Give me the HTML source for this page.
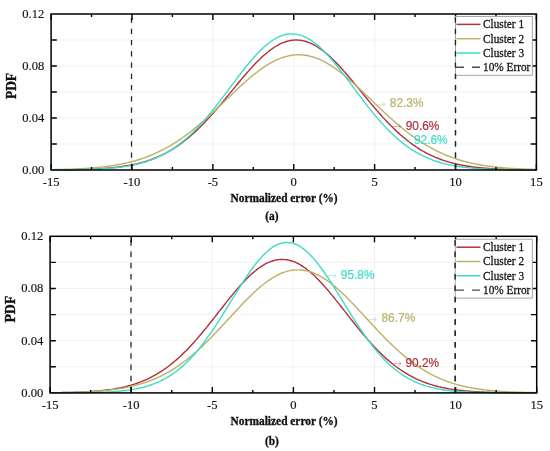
<!DOCTYPE html>
<html><head><meta charset="utf-8"><style>
html,body{margin:0;padding:0;background:#fff;}
body{width:550px;height:451px;overflow:hidden;}
svg{display:block;}
.tl{font-family:"Liberation Serif",serif;font-size:12.6px;fill:#111;stroke:#111;stroke-width:0.15px;}
.lg{font-family:"Liberation Serif",serif;font-size:11.3px;fill:#111;stroke:#111;stroke-width:0.25px;}
.ax{font-family:"Liberation Serif",serif;font-size:11.4px;font-weight:bold;fill:#111;stroke:#111;stroke-width:0.3px;}
.pdf{font-family:"Liberation Serif",serif;font-size:13px;font-weight:bold;fill:#111;stroke:#111;stroke-width:0.3px;}
.an{font-family:"Liberation Sans",sans-serif;font-size:11.9px;stroke-width:0.2px;}
</style></head><body>
<svg width="550" height="451" viewBox="0 0 550 451">
<rect width="550" height="451" fill="#fff"/>
<line x1="131.98" y1="14.00" x2="131.98" y2="170.00" stroke="#efefef" stroke-width="0.9"/>
<line x1="212.87" y1="14.00" x2="212.87" y2="170.00" stroke="#efefef" stroke-width="0.9"/>
<line x1="293.75" y1="14.00" x2="293.75" y2="170.00" stroke="#efefef" stroke-width="0.9"/>
<line x1="374.63" y1="14.00" x2="374.63" y2="170.00" stroke="#efefef" stroke-width="0.9"/>
<line x1="455.52" y1="14.00" x2="455.52" y2="170.00" stroke="#efefef" stroke-width="0.9"/>
<line x1="51.10" y1="144.00" x2="536.40" y2="144.00" stroke="#efefef" stroke-width="0.9"/>
<line x1="51.10" y1="118.00" x2="536.40" y2="118.00" stroke="#efefef" stroke-width="0.9"/>
<line x1="51.10" y1="92.00" x2="536.40" y2="92.00" stroke="#efefef" stroke-width="0.9"/>
<line x1="51.10" y1="66.00" x2="536.40" y2="66.00" stroke="#efefef" stroke-width="0.9"/>
<line x1="51.10" y1="40.00" x2="536.40" y2="40.00" stroke="#efefef" stroke-width="0.9"/>
<polyline points="51.10,169.90 52.72,169.89 54.34,169.88 55.95,169.87 57.57,169.86 59.19,169.85 60.81,169.83 62.42,169.82 64.04,169.80 65.66,169.78 67.28,169.76 68.89,169.74 70.51,169.71 72.13,169.69 73.75,169.66 75.37,169.63 76.98,169.59 78.60,169.56 80.22,169.52 81.84,169.48 83.45,169.43 85.07,169.38 86.69,169.33 88.31,169.27 89.92,169.21 91.54,169.15 93.16,169.08 94.78,169.00 96.39,168.92 98.01,168.83 99.63,168.74 101.25,168.64 102.87,168.53 104.48,168.42 106.10,168.30 107.72,168.17 109.34,168.03 110.95,167.88 112.57,167.73 114.19,167.56 115.81,167.38 117.42,167.19 119.04,166.99 120.66,166.78 122.28,166.55 123.90,166.31 125.51,166.06 127.13,165.79 128.75,165.50 130.37,165.20 131.98,164.89 133.60,164.55 135.22,164.20 136.84,163.83 138.45,163.43 140.07,163.02 141.69,162.59 143.31,162.13 144.92,161.65 146.54,161.15 148.16,160.63 149.78,160.07 151.40,159.50 153.01,158.89 154.63,158.26 156.25,157.60 157.87,156.91 159.48,156.20 161.10,155.45 162.72,154.67 164.34,153.86 165.95,153.02 167.57,152.14 169.19,151.23 170.81,150.29 172.42,149.32 174.04,148.30 175.66,147.26 177.28,146.18 178.90,145.06 180.51,143.90 182.13,142.71 183.75,141.49 185.37,140.22 186.98,138.92 188.60,137.59 190.22,136.22 191.84,134.81 193.45,133.37 195.07,131.89 196.69,130.37 198.31,128.83 199.93,127.24 201.54,125.63 203.16,123.98 204.78,122.31 206.40,120.60 208.01,118.86 209.63,117.10 211.25,115.31 212.87,113.49 214.48,111.65 216.10,109.79 217.72,107.91 219.34,106.01 220.95,104.09 222.57,102.16 224.19,100.21 225.81,98.26 227.43,96.29 229.04,94.32 230.66,92.35 232.28,90.37 233.90,88.40 235.51,86.43 237.13,84.46 238.75,82.50 240.37,80.56 241.98,78.63 243.60,76.72 245.22,74.82 246.84,72.95 248.46,71.10 250.07,69.29 251.69,67.50 253.31,65.75 254.93,64.03 256.54,62.35 258.16,60.72 259.78,59.13 261.40,57.58 263.01,56.09 264.63,54.65 266.25,53.27 267.87,51.94 269.49,50.67 271.10,49.47 272.72,48.32 274.34,47.25 275.96,46.24 277.57,45.31 279.19,44.44 280.81,43.65 282.43,42.94 284.04,42.29 285.66,41.73 287.28,41.25 288.90,40.84 290.51,40.52 292.13,40.27 293.75,40.11 295.37,40.03 296.99,40.03 298.60,40.11 300.22,40.27 301.84,40.52 303.46,40.84 305.07,41.25 306.69,41.73 308.31,42.29 309.93,42.94 311.54,43.65 313.16,44.44 314.78,45.31 316.40,46.24 318.01,47.25 319.63,48.32 321.25,49.47 322.87,50.67 324.49,51.94 326.10,53.27 327.72,54.65 329.34,56.09 330.96,57.58 332.57,59.13 334.19,60.72 335.81,62.35 337.43,64.03 339.04,65.75 340.66,67.50 342.28,69.29 343.90,71.10 345.52,72.95 347.13,74.82 348.75,76.72 350.37,78.63 351.99,80.56 353.60,82.50 355.22,84.46 356.84,86.43 358.46,88.40 360.07,90.37 361.69,92.35 363.31,94.32 364.93,96.29 366.55,98.26 368.16,100.21 369.78,102.16 371.40,104.09 373.02,106.01 374.63,107.91 376.25,109.79 377.87,111.65 379.49,113.49 381.10,115.31 382.72,117.10 384.34,118.86 385.96,120.60 387.57,122.31 389.19,123.98 390.81,125.63 392.43,127.24 394.05,128.83 395.66,130.37 397.28,131.89 398.90,133.37 400.52,134.81 402.13,136.22 403.75,137.59 405.37,138.92 406.99,140.22 408.60,141.49 410.22,142.71 411.84,143.90 413.46,145.06 415.07,146.18 416.69,147.26 418.31,148.30 419.93,149.32 421.55,150.29 423.16,151.23 424.78,152.14 426.40,153.02 428.02,153.86 429.63,154.67 431.25,155.45 432.87,156.20 434.49,156.91 436.10,157.60 437.72,158.26 439.34,158.89 440.96,159.50 442.58,160.07 444.19,160.63 445.81,161.15 447.43,161.65 449.05,162.13 450.66,162.59 452.28,163.02 453.90,163.43 455.52,163.83 457.13,164.20 458.75,164.55 460.37,164.89 461.99,165.20 463.61,165.50 465.22,165.79 466.84,166.06 468.46,166.31 470.08,166.55 471.69,166.78 473.31,166.99 474.93,167.19 476.55,167.38 478.16,167.56 479.78,167.73 481.40,167.88 483.02,168.03 484.63,168.17 486.25,168.30 487.87,168.42 489.49,168.53 491.11,168.64 492.72,168.74 494.34,168.83 495.96,168.92 497.58,169.00 499.19,169.08 500.81,169.15 502.43,169.21 504.05,169.27 505.66,169.33 507.28,169.38 508.90,169.43 510.52,169.48 512.13,169.52 513.75,169.56 515.37,169.59 516.99,169.63 518.61,169.66 520.22,169.69 521.84,169.71 523.46,169.74 525.08,169.76 526.69,169.78 528.31,169.80 529.93,169.82 531.55,169.83 533.16,169.85 534.78,169.86 536.40,169.87" fill="none" stroke="#b0303a" stroke-width="1.4" stroke-linejoin="round"/>
<polyline points="51.10,169.64 52.72,169.62 54.34,169.59 55.95,169.55 57.57,169.52 59.19,169.48 60.81,169.44 62.42,169.40 64.04,169.36 65.66,169.31 67.28,169.26 68.89,169.21 70.51,169.15 72.13,169.09 73.75,169.02 75.37,168.95 76.98,168.88 78.60,168.80 80.22,168.72 81.84,168.63 83.45,168.54 85.07,168.44 86.69,168.34 88.31,168.22 89.92,168.11 91.54,167.98 93.16,167.85 94.78,167.71 96.39,167.57 98.01,167.41 99.63,167.25 101.25,167.08 102.87,166.90 104.48,166.71 106.10,166.51 107.72,166.30 109.34,166.08 110.95,165.84 112.57,165.60 114.19,165.34 115.81,165.08 117.42,164.79 119.04,164.50 120.66,164.19 122.28,163.87 123.90,163.53 125.51,163.18 127.13,162.81 128.75,162.42 130.37,162.02 131.98,161.61 133.60,161.17 135.22,160.72 136.84,160.24 138.45,159.75 140.07,159.24 141.69,158.71 143.31,158.16 144.92,157.59 146.54,156.99 148.16,156.38 149.78,155.74 151.40,155.08 153.01,154.40 154.63,153.70 156.25,152.97 157.87,152.22 159.48,151.44 161.10,150.64 162.72,149.82 164.34,148.97 165.95,148.09 167.57,147.19 169.19,146.27 170.81,145.32 172.42,144.34 174.04,143.34 175.66,142.31 177.28,141.26 178.90,140.19 180.51,139.08 182.13,137.96 183.75,136.80 185.37,135.63 186.98,134.43 188.60,133.20 190.22,131.96 191.84,130.69 193.45,129.39 195.07,128.08 196.69,126.75 198.31,125.39 199.93,124.01 201.54,122.62 203.16,121.21 204.78,119.78 206.40,118.33 208.01,116.87 209.63,115.39 211.25,113.90 212.87,112.40 214.48,110.89 216.10,109.36 217.72,107.83 219.34,106.29 220.95,104.75 222.57,103.20 224.19,101.65 225.81,100.10 227.43,98.54 229.04,96.99 230.66,95.44 232.28,93.90 233.90,92.36 235.51,90.83 237.13,89.31 238.75,87.81 240.37,86.31 241.98,84.83 243.60,83.37 245.22,81.92 246.84,80.50 248.46,79.09 250.07,77.72 251.69,76.36 253.31,75.03 254.93,73.74 256.54,72.47 258.16,71.23 259.78,70.03 261.40,68.86 263.01,67.73 264.63,66.64 266.25,65.59 267.87,64.58 269.49,63.61 271.10,62.69 272.72,61.81 274.34,60.98 275.96,60.19 277.57,59.46 279.19,58.78 280.81,58.14 282.43,57.56 284.04,57.03 285.66,56.56 287.28,56.14 288.90,55.77 290.51,55.46 292.13,55.20 293.75,55.01 295.37,54.86 296.99,54.78 298.60,54.75 300.22,54.78 301.84,54.86 303.46,55.01 305.07,55.20 306.69,55.46 308.31,55.77 309.93,56.14 311.54,56.56 313.16,57.03 314.78,57.56 316.40,58.14 318.01,58.78 319.63,59.46 321.25,60.19 322.87,60.98 324.49,61.81 326.10,62.69 327.72,63.61 329.34,64.58 330.96,65.59 332.57,66.64 334.19,67.73 335.81,68.86 337.43,70.03 339.04,71.23 340.66,72.47 342.28,73.74 343.90,75.03 345.52,76.36 347.13,77.72 348.75,79.09 350.37,80.50 351.99,81.92 353.60,83.37 355.22,84.83 356.84,86.31 358.46,87.81 360.07,89.31 361.69,90.83 363.31,92.36 364.93,93.90 366.55,95.44 368.16,96.99 369.78,98.54 371.40,100.10 373.02,101.65 374.63,103.20 376.25,104.75 377.87,106.29 379.49,107.83 381.10,109.36 382.72,110.89 384.34,112.40 385.96,113.90 387.57,115.39 389.19,116.87 390.81,118.33 392.43,119.78 394.05,121.21 395.66,122.62 397.28,124.01 398.90,125.39 400.52,126.75 402.13,128.08 403.75,129.39 405.37,130.69 406.99,131.96 408.60,133.20 410.22,134.43 411.84,135.63 413.46,136.80 415.07,137.96 416.69,139.08 418.31,140.19 419.93,141.26 421.55,142.31 423.16,143.34 424.78,144.34 426.40,145.32 428.02,146.27 429.63,147.19 431.25,148.09 432.87,148.97 434.49,149.82 436.10,150.64 437.72,151.44 439.34,152.22 440.96,152.97 442.58,153.70 444.19,154.40 445.81,155.08 447.43,155.74 449.05,156.38 450.66,156.99 452.28,157.59 453.90,158.16 455.52,158.71 457.13,159.24 458.75,159.75 460.37,160.24 461.99,160.72 463.61,161.17 465.22,161.61 466.84,162.02 468.46,162.42 470.08,162.81 471.69,163.18 473.31,163.53 474.93,163.87 476.55,164.19 478.16,164.50 479.78,164.79 481.40,165.08 483.02,165.34 484.63,165.60 486.25,165.84 487.87,166.08 489.49,166.30 491.11,166.51 492.72,166.71 494.34,166.90 495.96,167.08 497.58,167.25 499.19,167.41 500.81,167.57 502.43,167.71 504.05,167.85 505.66,167.98 507.28,168.11 508.90,168.22 510.52,168.34 512.13,168.44 513.75,168.54 515.37,168.63 516.99,168.72 518.61,168.80 520.22,168.88 521.84,168.95 523.46,169.02 525.08,169.09 526.69,169.15 528.31,169.21 529.93,169.26 531.55,169.31 533.16,169.36 534.78,169.40 536.40,169.44" fill="none" stroke="#bcb067" stroke-width="1.4" stroke-linejoin="round"/>
<polyline points="51.10,169.93 52.72,169.93 54.34,169.92 55.95,169.91 57.57,169.90 59.19,169.89 60.81,169.88 62.42,169.87 64.04,169.85 65.66,169.84 67.28,169.82 68.89,169.80 70.51,169.78 72.13,169.76 73.75,169.74 75.37,169.71 76.98,169.69 78.60,169.66 80.22,169.62 81.84,169.59 83.45,169.55 85.07,169.51 86.69,169.46 88.31,169.42 89.92,169.36 91.54,169.31 93.16,169.24 94.78,169.18 96.39,169.11 98.01,169.03 99.63,168.95 101.25,168.86 102.87,168.76 104.48,168.66 106.10,168.55 107.72,168.43 109.34,168.30 110.95,168.16 112.57,168.02 114.19,167.86 115.81,167.69 117.42,167.51 119.04,167.32 120.66,167.12 122.28,166.90 123.90,166.67 125.51,166.43 127.13,166.17 128.75,165.89 130.37,165.59 131.98,165.28 133.60,164.95 135.22,164.60 136.84,164.23 138.45,163.84 140.07,163.43 141.69,162.99 143.31,162.53 144.92,162.05 146.54,161.54 148.16,161.00 149.78,160.43 151.40,159.84 153.01,159.22 154.63,158.57 156.25,157.88 157.87,157.17 159.48,156.42 161.10,155.64 162.72,154.82 164.34,153.97 165.95,153.08 167.57,152.15 169.19,151.19 170.81,150.19 172.42,149.15 174.04,148.07 175.66,146.95 177.28,145.78 178.90,144.58 180.51,143.34 182.13,142.06 183.75,140.73 185.37,139.36 186.98,137.95 188.60,136.50 190.22,135.01 191.84,133.47 193.45,131.90 195.07,130.28 196.69,128.63 198.31,126.93 199.93,125.20 201.54,123.42 203.16,121.62 204.78,119.77 206.40,117.89 208.01,115.98 209.63,114.04 211.25,112.07 212.87,110.06 214.48,108.04 216.10,105.98 217.72,103.91 219.34,101.81 220.95,99.70 222.57,97.57 224.19,95.43 225.81,93.28 227.43,91.12 229.04,88.95 230.66,86.79 232.28,84.62 233.90,82.46 235.51,80.31 237.13,78.16 238.75,76.03 240.37,73.91 241.98,71.82 243.60,69.75 245.22,67.71 246.84,65.69 248.46,63.71 250.07,61.77 251.69,59.87 253.31,58.01 254.93,56.19 256.54,54.43 258.16,52.72 259.78,51.07 261.40,49.48 263.01,47.95 264.63,46.49 266.25,45.09 267.87,43.77 269.49,42.52 271.10,41.35 272.72,40.25 274.34,39.24 275.96,38.31 277.57,37.46 279.19,36.70 280.81,36.03 282.43,35.45 284.04,34.95 285.66,34.55 287.28,34.25 288.90,34.03 290.51,33.91 292.13,33.88 293.75,33.95 295.37,34.10 296.99,34.36 298.60,34.70 300.22,35.14 301.84,35.67 303.46,36.29 305.07,36.99 306.69,37.79 308.31,38.67 309.93,39.63 311.54,40.68 313.16,41.81 314.78,43.01 316.40,44.29 318.01,45.64 319.63,47.07 321.25,48.56 322.87,50.11 324.49,51.73 326.10,53.40 327.72,55.13 329.34,56.91 330.96,58.74 332.57,60.62 334.19,62.54 335.81,64.50 337.43,66.49 339.04,68.52 340.66,70.57 342.28,72.66 343.90,74.76 345.52,76.88 347.13,79.02 348.75,81.17 350.37,83.32 351.99,85.49 353.60,87.65 355.22,89.82 356.84,91.98 358.46,94.14 360.07,96.29 361.69,98.43 363.31,100.55 364.93,102.65 366.55,104.74 368.16,106.81 369.78,108.85 371.40,110.87 373.02,112.86 374.63,114.82 376.25,116.75 377.87,118.65 379.49,120.51 381.10,122.34 382.72,124.14 384.34,125.89 385.96,127.61 387.57,129.29 389.19,130.93 390.81,132.53 392.43,134.09 394.05,135.61 395.66,137.09 397.28,138.52 398.90,139.91 400.52,141.27 402.13,142.58 403.75,143.84 405.37,145.07 406.99,146.25 408.60,147.40 410.22,148.50 411.84,149.57 413.46,150.59 415.07,151.58 416.69,152.53 418.31,153.44 419.93,154.31 421.55,155.15 423.16,155.95 424.78,156.72 426.40,157.46 428.02,158.16 429.63,158.83 431.25,159.47 432.87,160.08 434.49,160.66 436.10,161.22 437.72,161.74 439.34,162.24 440.96,162.72 442.58,163.17 444.19,163.60 445.81,164.00 447.43,164.38 449.05,164.74 450.66,165.09 452.28,165.41 453.90,165.71 455.52,166.00 457.13,166.27 458.75,166.53 460.37,166.77 461.99,166.99 463.61,167.20 465.22,167.40 466.84,167.59 468.46,167.76 470.08,167.92 471.69,168.08 473.31,168.22 474.93,168.35 476.55,168.48 478.16,168.59 479.78,168.70 481.40,168.80 483.02,168.89 484.63,168.98 486.25,169.06 487.87,169.14 489.49,169.21 491.11,169.27 492.72,169.33 494.34,169.38 495.96,169.44 497.58,169.48 499.19,169.53 500.81,169.57 502.43,169.60 504.05,169.64 505.66,169.67 507.28,169.70 508.90,169.72 510.52,169.75 512.13,169.77 513.75,169.79 515.37,169.81 516.99,169.83 518.61,169.84 520.22,169.86 521.84,169.87 523.46,169.88 525.08,169.89 526.69,169.90 528.31,169.91 529.93,169.92 531.55,169.93 533.16,169.94 534.78,169.94 536.40,169.95" fill="none" stroke="#3ddcc9" stroke-width="1.4" stroke-linejoin="round"/>
<line x1="131.50" y1="14.00" x2="131.50" y2="170.00" stroke="#222" stroke-width="1.25" stroke-dasharray="5.2 6.05" stroke-dashoffset="-3.6"/>
<line x1="455.50" y1="14.00" x2="455.50" y2="170.00" stroke="#222" stroke-width="1.25" stroke-dasharray="5.2 6.05" stroke-dashoffset="-3.6"/>
<path d="M51.10,170.00V164.00M51.10,14.00V20.00M91.54,170.00V167.00M91.54,14.00V17.00M131.98,170.00V164.00M131.98,14.00V20.00M172.42,170.00V167.00M172.42,14.00V17.00M212.87,170.00V164.00M212.87,14.00V20.00M253.31,170.00V167.00M253.31,14.00V17.00M293.75,170.00V164.00M293.75,14.00V20.00M334.19,170.00V167.00M334.19,14.00V17.00M374.63,170.00V164.00M374.63,14.00V20.00M415.07,170.00V167.00M415.07,14.00V17.00M455.52,170.00V164.00M455.52,14.00V20.00M495.96,170.00V167.00M495.96,14.00V17.00M536.40,170.00V164.00M536.40,14.00V20.00M51.10,144.00H56.80M536.40,144.00H530.70M51.10,118.00H56.80M536.40,118.00H530.70M51.10,92.00H56.80M536.40,92.00H530.70M51.10,66.00H56.80M536.40,66.00H530.70M51.10,40.00H56.80M536.40,40.00H530.70" stroke="#000" stroke-width="1.4" fill="none"/>
<rect x="455.50" y="16.40" width="76.80" height="58.9" fill="#fff" stroke="#9a9a9a" stroke-width="0.9"/>
<line x1="456.5" y1="24.40" x2="480.5" y2="24.40" stroke="#b0303a" stroke-width="1.5"/>
<text transform="translate(483.00,28.20) scale(1,1.05)" class="lg">Cluster 1</text>
<line x1="456.5" y1="38.70" x2="480.5" y2="38.70" stroke="#bcb067" stroke-width="1.5"/>
<text transform="translate(483.00,42.50) scale(1,1.05)" class="lg">Cluster 2</text>
<line x1="456.5" y1="53.00" x2="480.5" y2="53.00" stroke="#3ddcc9" stroke-width="1.5"/>
<text transform="translate(483.00,56.80) scale(1,1.05)" class="lg">Cluster 3</text>
<line x1="456" y1="67.30" x2="480" y2="67.30" stroke="#4a4a4a" stroke-width="1.4" stroke-dasharray="8 8"/>
<text transform="translate(483.00,71.10) scale(1,1.05)" class="lg">10% Error</text>
<line x1="455.50" y1="14.00" x2="455.50" y2="170.00" stroke="#222" stroke-width="1.25" stroke-dasharray="5.2 6.05" stroke-dashoffset="-3.6"/>
<rect x="51.10" y="14.00" width="485.30" height="156.00" fill="none" stroke="#000" stroke-width="1.5"/>
<text transform="translate(51.10,186.00) scale(1,1.05)" class="tl" text-anchor="middle">-15</text>
<text transform="translate(131.98,186.00) scale(1,1.05)" class="tl" text-anchor="middle">-10</text>
<text transform="translate(212.87,186.00) scale(1,1.05)" class="tl" text-anchor="middle">-5</text>
<text transform="translate(293.75,186.00) scale(1,1.05)" class="tl" text-anchor="middle">0</text>
<text transform="translate(374.63,186.00) scale(1,1.05)" class="tl" text-anchor="middle">5</text>
<text transform="translate(455.52,186.00) scale(1,1.05)" class="tl" text-anchor="middle">10</text>
<text transform="translate(536.40,186.00) scale(1,1.05)" class="tl" text-anchor="middle">15</text>
<text transform="translate(44.30,173.90) scale(1,1.05)" class="tl" text-anchor="end">0.00</text>
<text transform="translate(44.30,121.90) scale(1,1.05)" class="tl" text-anchor="end">0.04</text>
<text transform="translate(44.30,69.90) scale(1,1.05)" class="tl" text-anchor="end">0.08</text>
<text transform="translate(44.30,17.90) scale(1,1.05)" class="tl" text-anchor="end">0.12</text>
<text transform="translate(284.10,201.60) scale(1,1.1)" class="ax" text-anchor="middle">Normalized error (%)</text>
<text transform="translate(271.90,219.50) scale(1,1.1)" class="ax" text-anchor="middle">(a)</text>
<text transform="translate(15.6,86.00) rotate(-90) scale(1.03,1.18)" class="pdf" text-anchor="middle">PDF</text>
<path d="M377.5,104.3H384.9M383.09999999999997,102.0L384.9,104.3L383.09999999999997,106.6" stroke="#bcb067" stroke-width="0.7" fill="none" opacity="0.6"/>
<text transform="translate(389.80,107.10) scale(1,1.0)" class="an" fill="#bcb067" stroke="#bcb067">82.3%</text>
<path d="M393.3,126.5H400.7M398.9,124.2L400.7,126.5L398.9,128.8" stroke="#b0303a" stroke-width="0.7" fill="none" opacity="0.6"/>
<text transform="translate(405.70,129.60) scale(1,1.0)" class="an" fill="#b0303a" stroke="#b0303a">90.6%</text>
<path d="M401.7,141.0H409.0M407.2,138.7L409.0,141.0L407.2,143.3" stroke="#3ddcc9" stroke-width="0.7" fill="none" opacity="0.6"/>
<text transform="translate(413.90,143.80) scale(1,1.0)" class="an" fill="#3ddcc9" stroke="#3ddcc9">92.6%</text>
<line x1="131.20" y1="236.30" x2="131.20" y2="392.90" stroke="#efefef" stroke-width="0.9"/>
<line x1="212.30" y1="236.30" x2="212.30" y2="392.90" stroke="#efefef" stroke-width="0.9"/>
<line x1="293.40" y1="236.30" x2="293.40" y2="392.90" stroke="#efefef" stroke-width="0.9"/>
<line x1="374.50" y1="236.30" x2="374.50" y2="392.90" stroke="#efefef" stroke-width="0.9"/>
<line x1="455.60" y1="236.30" x2="455.60" y2="392.90" stroke="#efefef" stroke-width="0.9"/>
<line x1="50.10" y1="366.80" x2="536.70" y2="366.80" stroke="#efefef" stroke-width="0.9"/>
<line x1="50.10" y1="340.70" x2="536.70" y2="340.70" stroke="#efefef" stroke-width="0.9"/>
<line x1="50.10" y1="314.60" x2="536.70" y2="314.60" stroke="#efefef" stroke-width="0.9"/>
<line x1="50.10" y1="288.50" x2="536.70" y2="288.50" stroke="#efefef" stroke-width="0.9"/>
<line x1="50.10" y1="262.40" x2="536.70" y2="262.40" stroke="#efefef" stroke-width="0.9"/>
<polyline points="50.10,392.74 51.72,392.72 53.34,392.71 54.97,392.69 56.59,392.67 58.21,392.64 59.83,392.62 61.45,392.59 63.08,392.57 64.70,392.54 66.32,392.50 67.94,392.47 69.56,392.43 71.19,392.38 72.81,392.34 74.43,392.29 76.05,392.24 77.67,392.18 79.30,392.12 80.92,392.05 82.54,391.98 84.16,391.90 85.78,391.82 87.41,391.73 89.03,391.63 90.65,391.53 92.27,391.42 93.89,391.30 95.52,391.17 97.14,391.04 98.76,390.89 100.38,390.74 102.00,390.57 103.63,390.40 105.25,390.21 106.87,390.01 108.49,389.80 110.11,389.58 111.74,389.34 113.36,389.09 114.98,388.82 116.60,388.53 118.22,388.23 119.85,387.91 121.47,387.58 123.09,387.22 124.71,386.84 126.33,386.45 127.96,386.03 129.58,385.59 131.20,385.13 132.82,384.64 134.44,384.13 136.07,383.59 137.69,383.02 139.31,382.43 140.93,381.81 142.55,381.16 144.18,380.48 145.80,379.78 147.42,379.03 149.04,378.26 150.66,377.46 152.29,376.62 153.91,375.74 155.53,374.83 157.15,373.89 158.77,372.91 160.40,371.89 162.02,370.84 163.64,369.74 165.26,368.61 166.88,367.45 168.51,366.24 170.13,364.99 171.75,363.71 173.37,362.38 174.99,361.02 176.62,359.61 178.24,358.17 179.86,356.69 181.48,355.17 183.10,353.62 184.73,352.02 186.35,350.39 187.97,348.72 189.59,347.02 191.21,345.29 192.84,343.52 194.46,341.71 196.08,339.88 197.70,338.02 199.32,336.13 200.95,334.21 202.57,332.27 204.19,330.31 205.81,328.32 207.43,326.32 209.06,324.30 210.68,322.26 212.30,320.21 213.92,318.15 215.54,316.08 217.17,314.01 218.79,311.93 220.41,309.86 222.03,307.78 223.65,305.72 225.28,303.66 226.90,301.61 228.52,299.58 230.14,297.56 231.76,295.57 233.39,293.60 235.01,291.65 236.63,289.74 238.25,287.85 239.87,286.01 241.50,284.20 243.12,282.44 244.74,280.72 246.36,279.04 247.98,277.42 249.61,275.86 251.23,274.35 252.85,272.89 254.47,271.51 256.09,270.18 257.72,268.93 259.34,267.74 260.96,266.62 262.58,265.58 264.20,264.61 265.83,263.72 267.45,262.92 269.07,262.19 270.69,261.54 272.31,260.98 273.94,260.50 275.56,260.11 277.18,259.80 278.80,259.58 280.42,259.45 282.05,259.41 283.67,259.45 285.29,259.58 286.91,259.80 288.53,260.11 290.16,260.50 291.78,260.98 293.40,261.54 295.02,262.19 296.64,262.92 298.27,263.72 299.89,264.61 301.51,265.58 303.13,266.62 304.75,267.74 306.38,268.93 308.00,270.18 309.62,271.51 311.24,272.89 312.86,274.35 314.49,275.86 316.11,277.42 317.73,279.04 319.35,280.72 320.97,282.44 322.60,284.20 324.22,286.01 325.84,287.85 327.46,289.74 329.08,291.65 330.71,293.60 332.33,295.57 333.95,297.56 335.57,299.58 337.19,301.61 338.82,303.66 340.44,305.72 342.06,307.78 343.68,309.86 345.30,311.93 346.93,314.01 348.55,316.08 350.17,318.15 351.79,320.21 353.41,322.26 355.04,324.30 356.66,326.32 358.28,328.32 359.90,330.31 361.52,332.27 363.15,334.21 364.77,336.13 366.39,338.02 368.01,339.88 369.63,341.71 371.26,343.52 372.88,345.29 374.50,347.02 376.12,348.72 377.74,350.39 379.37,352.02 380.99,353.62 382.61,355.17 384.23,356.69 385.85,358.17 387.48,359.61 389.10,361.02 390.72,362.38 392.34,363.71 393.96,364.99 395.59,366.24 397.21,367.45 398.83,368.61 400.45,369.74 402.07,370.84 403.70,371.89 405.32,372.91 406.94,373.89 408.56,374.83 410.18,375.74 411.81,376.62 413.43,377.46 415.05,378.26 416.67,379.03 418.29,379.78 419.92,380.48 421.54,381.16 423.16,381.81 424.78,382.43 426.40,383.02 428.03,383.59 429.65,384.13 431.27,384.64 432.89,385.13 434.51,385.59 436.14,386.03 437.76,386.45 439.38,386.84 441.00,387.22 442.62,387.58 444.25,387.91 445.87,388.23 447.49,388.53 449.11,388.82 450.73,389.09 452.36,389.34 453.98,389.58 455.60,389.80 457.22,390.01 458.84,390.21 460.47,390.40 462.09,390.57 463.71,390.74 465.33,390.89 466.95,391.04 468.58,391.17 470.20,391.30 471.82,391.42 473.44,391.53 475.06,391.63 476.69,391.73 478.31,391.82 479.93,391.90 481.55,391.98 483.17,392.05 484.80,392.12 486.42,392.18 488.04,392.24 489.66,392.29 491.28,392.34 492.91,392.38 494.53,392.43 496.15,392.47 497.77,392.50 499.39,392.54 501.02,392.57 502.64,392.59 504.26,392.62 505.88,392.64 507.50,392.67 509.13,392.69 510.75,392.71 512.37,392.72 513.99,392.74 515.61,392.75 517.24,392.77 518.86,392.78 520.48,392.79 522.10,392.80 523.72,392.81 525.35,392.82 526.97,392.83 528.59,392.83 530.21,392.84 531.83,392.85 533.46,392.85 535.08,392.86 536.70,392.86" fill="none" stroke="#b0303a" stroke-width="1.4" stroke-linejoin="round"/>
<polyline points="50.10,392.72 51.72,392.70 53.34,392.68 54.97,392.67 56.59,392.64 58.21,392.62 59.83,392.60 61.45,392.57 63.08,392.55 64.70,392.52 66.32,392.48 67.94,392.45 69.56,392.41 71.19,392.37 72.81,392.33 74.43,392.28 76.05,392.24 77.67,392.18 79.30,392.13 80.92,392.07 82.54,392.00 84.16,391.93 85.78,391.86 87.41,391.78 89.03,391.70 90.65,391.61 92.27,391.51 93.89,391.41 95.52,391.30 97.14,391.19 98.76,391.07 100.38,390.94 102.00,390.80 103.63,390.65 105.25,390.50 106.87,390.34 108.49,390.16 110.11,389.98 111.74,389.78 113.36,389.58 114.98,389.36 116.60,389.13 118.22,388.89 119.85,388.64 121.47,388.37 123.09,388.09 124.71,387.79 126.33,387.48 127.96,387.15 129.58,386.80 131.20,386.44 132.82,386.06 134.44,385.66 136.07,385.25 137.69,384.81 139.31,384.35 140.93,383.88 142.55,383.38 144.18,382.86 145.80,382.32 147.42,381.75 149.04,381.16 150.66,380.55 152.29,379.91 153.91,379.24 155.53,378.55 157.15,377.84 158.77,377.09 160.40,376.32 162.02,375.52 163.64,374.70 165.26,373.84 166.88,372.96 168.51,372.04 170.13,371.10 171.75,370.12 173.37,369.12 174.99,368.08 176.62,367.02 178.24,365.92 179.86,364.80 181.48,363.64 183.10,362.45 184.73,361.23 186.35,359.98 187.97,358.71 189.59,357.40 191.21,356.06 192.84,354.69 194.46,353.30 196.08,351.87 197.70,350.42 199.32,348.94 200.95,347.44 202.57,345.91 204.19,344.36 205.81,342.78 207.43,341.18 209.06,339.56 210.68,337.92 212.30,336.26 213.92,334.58 215.54,332.89 217.17,331.18 218.79,329.46 220.41,327.73 222.03,325.99 223.65,324.24 225.28,322.48 226.90,320.72 228.52,318.96 230.14,317.19 231.76,315.43 233.39,313.67 235.01,311.91 236.63,310.16 238.25,308.43 239.87,306.70 241.50,304.99 243.12,303.29 244.74,301.61 246.36,299.95 247.98,298.32 249.61,296.71 251.23,295.13 252.85,293.57 254.47,292.05 256.09,290.57 257.72,289.11 259.34,287.70 260.96,286.33 262.58,285.00 264.20,283.71 265.83,282.47 267.45,281.28 269.07,280.14 270.69,279.05 272.31,278.01 273.94,277.03 275.56,276.11 277.18,275.25 278.80,274.44 280.42,273.70 282.05,273.02 283.67,272.40 285.29,271.84 286.91,271.36 288.53,270.93 290.16,270.58 291.78,270.29 293.40,270.07 295.02,269.92 296.64,269.84 298.27,269.83 299.89,269.88 301.51,270.00 303.13,270.20 304.75,270.46 306.38,270.78 308.00,271.18 309.62,271.64 311.24,272.17 312.86,272.76 314.49,273.42 316.11,274.14 317.73,274.92 319.35,275.76 320.97,276.66 322.60,277.62 324.22,278.63 325.84,279.70 327.46,280.82 329.08,281.99 330.71,283.21 332.33,284.48 333.95,285.79 335.57,287.15 337.19,288.54 338.82,289.98 340.44,291.45 342.06,292.96 343.68,294.50 345.30,296.07 346.93,297.67 348.55,299.30 350.17,300.95 351.79,302.62 353.41,304.31 355.04,306.01 356.66,307.73 358.28,309.47 359.90,311.21 361.52,312.96 363.15,314.72 364.77,316.48 366.39,318.25 368.01,320.01 369.63,321.78 371.26,323.54 372.88,325.29 374.50,327.03 376.12,328.77 377.74,330.50 379.37,332.21 380.99,333.91 382.61,335.59 384.23,337.26 385.85,338.91 387.48,340.53 389.10,342.14 390.72,343.73 392.34,345.29 393.96,346.83 395.59,348.34 397.21,349.83 398.83,351.29 400.45,352.73 402.07,354.14 403.70,355.52 405.32,356.87 406.94,358.19 408.56,359.48 410.18,360.74 411.81,361.97 413.43,363.17 415.05,364.34 416.67,365.48 418.29,366.58 419.92,367.66 421.54,368.71 423.16,369.72 424.78,370.71 426.40,371.67 428.03,372.59 429.65,373.49 431.27,374.36 432.89,375.20 434.51,376.01 436.14,376.79 437.76,377.54 439.38,378.27 441.00,378.97 442.62,379.64 444.25,380.29 445.87,380.92 447.49,381.52 449.11,382.09 450.73,382.64 452.36,383.17 453.98,383.68 455.60,384.17 457.22,384.63 458.84,385.07 460.47,385.50 462.09,385.90 463.71,386.29 465.33,386.66 466.95,387.01 468.58,387.35 470.20,387.67 471.82,387.97 473.44,388.26 475.06,388.53 476.69,388.79 478.31,389.04 479.93,389.27 481.55,389.49 483.17,389.70 484.80,389.90 486.42,390.09 488.04,390.27 489.66,390.44 491.28,390.59 492.91,390.74 494.53,390.88 496.15,391.02 497.77,391.14 499.39,391.26 501.02,391.37 502.64,391.47 504.26,391.57 505.88,391.66 507.50,391.75 509.13,391.83 510.75,391.90 512.37,391.98 513.99,392.04 515.61,392.10 517.24,392.16 518.86,392.22 520.48,392.27 522.10,392.31 523.72,392.36 525.35,392.40 526.97,392.44 528.59,392.47 530.21,392.50 531.83,392.53 533.46,392.56 535.08,392.59 536.70,392.61" fill="none" stroke="#bcb067" stroke-width="1.4" stroke-linejoin="round"/>
<polyline points="50.10,392.88 51.72,392.88 53.34,392.87 54.97,392.87 56.59,392.87 58.21,392.86 59.83,392.86 61.45,392.85 63.08,392.85 64.70,392.84 66.32,392.83 67.94,392.83 69.56,392.82 71.19,392.81 72.81,392.80 74.43,392.78 76.05,392.77 77.67,392.76 79.30,392.74 80.92,392.72 82.54,392.70 84.16,392.68 85.78,392.66 87.41,392.63 89.03,392.60 90.65,392.57 92.27,392.53 93.89,392.49 95.52,392.45 97.14,392.41 98.76,392.35 100.38,392.30 102.00,392.24 103.63,392.17 105.25,392.10 106.87,392.02 108.49,391.94 110.11,391.85 111.74,391.75 113.36,391.64 114.98,391.52 116.60,391.39 118.22,391.26 119.85,391.11 121.47,390.95 123.09,390.78 124.71,390.59 126.33,390.39 127.96,390.17 129.58,389.94 131.20,389.70 132.82,389.43 134.44,389.14 136.07,388.84 137.69,388.51 139.31,388.16 140.93,387.79 142.55,387.40 144.18,386.97 145.80,386.52 147.42,386.05 149.04,385.54 150.66,385.00 152.29,384.43 153.91,383.83 155.53,383.19 157.15,382.51 158.77,381.80 160.40,381.05 162.02,380.25 163.64,379.42 165.26,378.54 166.88,377.62 168.51,376.65 170.13,375.64 171.75,374.57 173.37,373.46 174.99,372.30 176.62,371.09 178.24,369.82 179.86,368.50 181.48,367.13 183.10,365.70 184.73,364.22 186.35,362.69 187.97,361.09 189.59,359.45 191.21,357.74 192.84,355.98 194.46,354.16 196.08,352.29 197.70,350.36 199.32,348.38 200.95,346.35 202.57,344.26 204.19,342.12 205.81,339.94 207.43,337.70 209.06,335.42 210.68,333.09 212.30,330.72 213.92,328.31 215.54,325.87 217.17,323.39 218.79,320.88 220.41,318.33 222.03,315.77 223.65,313.18 225.28,310.58 226.90,307.96 228.52,305.33 230.14,302.69 231.76,300.05 233.39,297.42 235.01,294.79 236.63,292.18 238.25,289.58 239.87,287.00 241.50,284.45 243.12,281.93 244.74,279.44 246.36,277.00 247.98,274.60 249.61,272.26 251.23,269.97 252.85,267.74 254.47,265.58 256.09,263.49 257.72,261.48 259.34,259.54 260.96,257.69 262.58,255.93 264.20,254.26 265.83,252.69 267.45,251.21 269.07,249.85 270.69,248.59 272.31,247.44 273.94,246.40 275.56,245.48 277.18,244.68 278.80,243.99 280.42,243.43 282.05,243.00 283.67,242.68 285.29,242.49 286.91,242.43 288.53,242.49 290.16,242.68 291.78,243.00 293.40,243.43 295.02,243.99 296.64,244.68 298.27,245.48 299.89,246.40 301.51,247.44 303.13,248.59 304.75,249.85 306.38,251.21 308.00,252.69 309.62,254.26 311.24,255.93 312.86,257.69 314.49,259.54 316.11,261.48 317.73,263.49 319.35,265.58 320.97,267.74 322.60,269.97 324.22,272.26 325.84,274.60 327.46,277.00 329.08,279.44 330.71,281.93 332.33,284.45 333.95,287.00 335.57,289.58 337.19,292.18 338.82,294.79 340.44,297.42 342.06,300.05 343.68,302.69 345.30,305.33 346.93,307.96 348.55,310.58 350.17,313.18 351.79,315.77 353.41,318.33 355.04,320.88 356.66,323.39 358.28,325.87 359.90,328.31 361.52,330.72 363.15,333.09 364.77,335.42 366.39,337.70 368.01,339.94 369.63,342.12 371.26,344.26 372.88,346.35 374.50,348.38 376.12,350.36 377.74,352.29 379.37,354.16 380.99,355.98 382.61,357.74 384.23,359.45 385.85,361.09 387.48,362.69 389.10,364.22 390.72,365.70 392.34,367.13 393.96,368.50 395.59,369.82 397.21,371.09 398.83,372.30 400.45,373.46 402.07,374.57 403.70,375.64 405.32,376.65 406.94,377.62 408.56,378.54 410.18,379.42 411.81,380.25 413.43,381.05 415.05,381.80 416.67,382.51 418.29,383.19 419.92,383.83 421.54,384.43 423.16,385.00 424.78,385.54 426.40,386.05 428.03,386.52 429.65,386.97 431.27,387.40 432.89,387.79 434.51,388.16 436.14,388.51 437.76,388.84 439.38,389.14 441.00,389.43 442.62,389.70 444.25,389.94 445.87,390.17 447.49,390.39 449.11,390.59 450.73,390.78 452.36,390.95 453.98,391.11 455.60,391.26 457.22,391.39 458.84,391.52 460.47,391.64 462.09,391.75 463.71,391.85 465.33,391.94 466.95,392.02 468.58,392.10 470.20,392.17 471.82,392.24 473.44,392.30 475.06,392.35 476.69,392.41 478.31,392.45 479.93,392.49 481.55,392.53 483.17,392.57 484.80,392.60 486.42,392.63 488.04,392.66 489.66,392.68 491.28,392.70 492.91,392.72 494.53,392.74 496.15,392.76 497.77,392.77 499.39,392.78 501.02,392.80 502.64,392.81 504.26,392.82 505.88,392.83 507.50,392.83 509.13,392.84 510.75,392.85 512.37,392.85 513.99,392.86 515.61,392.86 517.24,392.87 518.86,392.87 520.48,392.87 522.10,392.88 523.72,392.88 525.35,392.88 526.97,392.88 528.59,392.89 530.21,392.89 531.83,392.89 533.46,392.89 535.08,392.89 536.70,392.89" fill="none" stroke="#3ddcc9" stroke-width="1.4" stroke-linejoin="round"/>
<line x1="131.00" y1="236.30" x2="131.00" y2="392.90" stroke="#222" stroke-width="1.25" stroke-dasharray="5.5 5.8" stroke-dashoffset="-3.9"/>
<line x1="455.20" y1="236.30" x2="455.20" y2="392.90" stroke="#222" stroke-width="1.25" stroke-dasharray="5.5 5.8" stroke-dashoffset="-3.9"/>
<path d="M50.10,392.90V386.90M50.10,236.30V242.30M90.65,392.90V389.90M90.65,236.30V239.30M131.20,392.90V386.90M131.20,236.30V242.30M171.75,392.90V389.90M171.75,236.30V239.30M212.30,392.90V386.90M212.30,236.30V242.30M252.85,392.90V389.90M252.85,236.30V239.30M293.40,392.90V386.90M293.40,236.30V242.30M333.95,392.90V389.90M333.95,236.30V239.30M374.50,392.90V386.90M374.50,236.30V242.30M415.05,392.90V389.90M415.05,236.30V239.30M455.60,392.90V386.90M455.60,236.30V242.30M496.15,392.90V389.90M496.15,236.30V239.30M536.70,392.90V386.90M536.70,236.30V242.30M50.10,366.80H55.80M536.70,366.80H531.00M50.10,340.70H55.80M536.70,340.70H531.00M50.10,314.60H55.80M536.70,314.60H531.00M50.10,288.50H55.80M536.70,288.50H531.00M50.10,262.40H55.80M536.70,262.40H531.00" stroke="#000" stroke-width="1.4" fill="none"/>
<rect x="455.20" y="239.20" width="77.10" height="58.9" fill="#fff" stroke="#9a9a9a" stroke-width="0.9"/>
<line x1="456.5" y1="247.20" x2="480.5" y2="247.20" stroke="#b0303a" stroke-width="1.5"/>
<text transform="translate(483.00,251.00) scale(1,1.05)" class="lg">Cluster 1</text>
<line x1="456.5" y1="261.50" x2="480.5" y2="261.50" stroke="#bcb067" stroke-width="1.5"/>
<text transform="translate(483.00,265.30) scale(1,1.05)" class="lg">Cluster 2</text>
<line x1="456.5" y1="275.80" x2="480.5" y2="275.80" stroke="#3ddcc9" stroke-width="1.5"/>
<text transform="translate(483.00,279.60) scale(1,1.05)" class="lg">Cluster 3</text>
<line x1="456" y1="290.10" x2="480" y2="290.10" stroke="#4a4a4a" stroke-width="1.4" stroke-dasharray="8 8"/>
<text transform="translate(483.00,293.90) scale(1,1.05)" class="lg">10% Error</text>
<line x1="455.20" y1="236.30" x2="455.20" y2="392.90" stroke="#222" stroke-width="1.25" stroke-dasharray="5.5 5.8" stroke-dashoffset="-3.9"/>
<rect x="50.10" y="236.30" width="486.60" height="156.60" fill="none" stroke="#000" stroke-width="1.5"/>
<text transform="translate(50.10,408.90) scale(1,1.05)" class="tl" text-anchor="middle">-15</text>
<text transform="translate(131.20,408.90) scale(1,1.05)" class="tl" text-anchor="middle">-10</text>
<text transform="translate(212.30,408.90) scale(1,1.05)" class="tl" text-anchor="middle">-5</text>
<text transform="translate(293.40,408.90) scale(1,1.05)" class="tl" text-anchor="middle">0</text>
<text transform="translate(374.50,408.90) scale(1,1.05)" class="tl" text-anchor="middle">5</text>
<text transform="translate(455.60,408.90) scale(1,1.05)" class="tl" text-anchor="middle">10</text>
<text transform="translate(536.70,408.90) scale(1,1.05)" class="tl" text-anchor="middle">15</text>
<text transform="translate(43.30,396.80) scale(1,1.05)" class="tl" text-anchor="end">0.00</text>
<text transform="translate(43.30,344.60) scale(1,1.05)" class="tl" text-anchor="end">0.04</text>
<text transform="translate(43.30,292.40) scale(1,1.05)" class="tl" text-anchor="end">0.08</text>
<text transform="translate(43.30,240.20) scale(1,1.05)" class="tl" text-anchor="end">0.12</text>
<text transform="translate(284.10,424.50) scale(1,1.1)" class="ax" text-anchor="middle">Normalized error (%)</text>
<text transform="translate(271.90,445.30) scale(1,1.1)" class="ax" text-anchor="middle">(b)</text>
<text transform="translate(14.9,309.20) rotate(-90) scale(1.06,1.18)" class="pdf" text-anchor="middle">PDF</text>
<path d="M327.8,275.7H335.7M333.9,273.4L335.7,275.7L333.9,278.0" stroke="#3ddcc9" stroke-width="0.7" fill="none" opacity="0.6"/>
<text transform="translate(340.80,278.80) scale(1,1.0)" class="an" fill="#3ddcc9" stroke="#3ddcc9">95.8%</text>
<path d="M368.8,319.3H376.2M374.4,317.0L376.2,319.3L374.4,321.6" stroke="#bcb067" stroke-width="0.7" fill="none" opacity="0.6"/>
<text transform="translate(381.50,322.40) scale(1,1.0)" class="an" fill="#bcb067" stroke="#bcb067">86.7%</text>
<path d="M393.8,363.6H400.8M399.0,361.3L400.8,363.6L399.0,365.90000000000003" stroke="#b0303a" stroke-width="0.7" fill="none" opacity="0.6"/>
<text transform="translate(405.40,366.60) scale(1,1.0)" class="an" fill="#b0303a" stroke="#b0303a">90.2%</text>
</svg>
</body></html>
